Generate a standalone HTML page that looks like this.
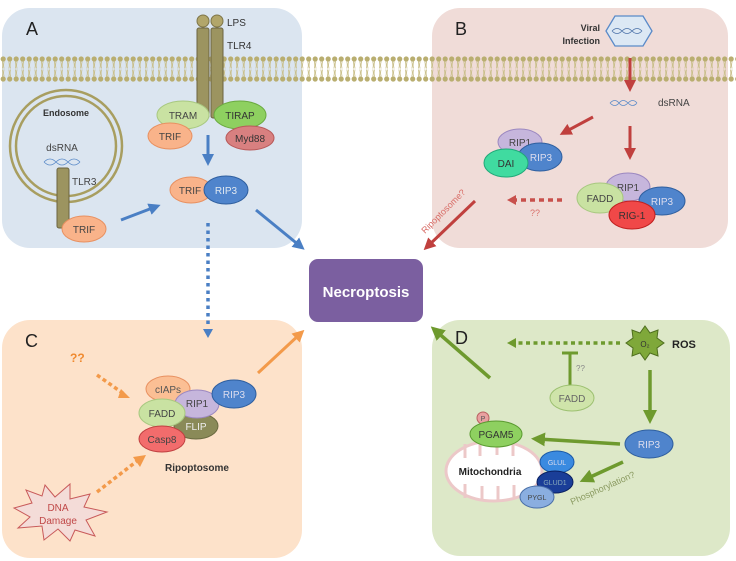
<!DOCTYPE html>
<html><head><meta charset="utf-8"><style>
html,body{margin:0;padding:0;background:#fff;}
svg{display:block;font-family:"Liberation Sans",sans-serif;}
</style></head><body>
<svg width="736" height="561" viewBox="0 0 736 561" xmlns="http://www.w3.org/2000/svg">
<defs>
<pattern id="mem" x="0" y="55" width="6.5" height="28" patternUnits="userSpaceOnUse">
<circle cx="3.2" cy="4" r="2.6" fill="#b9ae70"/>
<circle cx="3.2" cy="24" r="2.6" fill="#b9ae70"/>
<path d="M2.3 6.5 q1 4 0 7 M4.1 6.5 q-1 4 0 7 M2.3 21.5 q1 -4 0 -7 M4.1 21.5 q-1 -4 0 -7" stroke="#c7bd85" stroke-width="0.8" fill="none"/>
</pattern>
<marker id="ab" markerWidth="4" markerHeight="4" refX="2" refY="2" orient="auto"><path d="M0 0L4 2L0 4z" fill="#4a7fc4"/></marker>
<marker id="ar" markerWidth="4" markerHeight="4" refX="2" refY="2" orient="auto"><path d="M0 0L4 2L0 4z" fill="#c0403e"/></marker>
<marker id="ao" markerWidth="4" markerHeight="4" refX="2" refY="2" orient="auto"><path d="M0 0L4 2L0 4z" fill="#f39a4a"/></marker>
<marker id="ag" markerWidth="4" markerHeight="4" refX="2" refY="2" orient="auto"><path d="M0 0L4 2L0 4z" fill="#6e9a2e"/></marker>
<marker id="arp" markerWidth="4" markerHeight="4" refX="2" refY="2" orient="auto"><path d="M0 0L4 2L0 4z" fill="#d8706a"/></marker>
</defs>
<!-- panels -->
<rect x="2" y="8" width="300" height="240" rx="28" fill="#dbe5f0"/>
<rect x="432" y="8" width="296" height="240" rx="28" fill="#f0dcd8"/>
<rect x="2" y="320" width="300" height="238" rx="28" fill="#fde2ca"/>
<rect x="432" y="320" width="298" height="236" rx="28" fill="#dde8c8"/>
<!-- membrane -->
<rect x="0" y="55" width="736" height="28" fill="url(#mem)"/>
<!-- necroptosis -->
<rect x="309" y="259" width="114" height="63" rx="9" fill="#7b5fa0"/>
<text x="366" y="297" text-anchor="middle" font-size="15" font-weight="bold" fill="#fff">Necroptosis</text>

<!-- Panel A -->
<text x="26" y="35" font-size="18" fill="#222">A</text>
<circle cx="203" cy="21" r="6" fill="#b2a66a" stroke="#7e7548"/>
<circle cx="217" cy="21" r="6" fill="#b2a66a" stroke="#7e7548"/>
<rect x="197" y="28" width="12" height="90" rx="2" fill="#9c9460" stroke="#6b6440"/>
<rect x="211" y="28" width="12" height="90" rx="2" fill="#9c9460" stroke="#6b6440"/>
<text x="227" y="26" font-size="10" fill="#333">LPS</text>
<text x="227" y="49" font-size="10" fill="#333">TLR4</text>
<ellipse cx="183" cy="115" rx="26" ry="14" fill="#c9e2a2" stroke="#a8c880"/>
<text x="183" y="119" text-anchor="middle" font-size="10" fill="#444">TRAM</text>
<ellipse cx="240" cy="115" rx="26" ry="14" fill="#8ed060" stroke="#6aaa40"/>
<text x="240" y="119" text-anchor="middle" font-size="10" fill="#333">TIRAP</text>
<ellipse cx="170" cy="136" rx="22" ry="13" fill="#f9b38a" stroke="#e89060"/>
<text x="170" y="140" text-anchor="middle" font-size="10" fill="#444">TRIF</text>
<ellipse cx="250" cy="138" rx="24" ry="12" fill="#d88080" stroke="#b85a5a"/>
<text x="250" y="142" text-anchor="middle" font-size="10" fill="#333">Myd88</text>
<line x1="208" y1="135" x2="208" y2="160" stroke="#4a7fc4" stroke-width="3" marker-end="url(#ab)"/>
<ellipse cx="191" cy="190" rx="21" ry="13" fill="#f9b38a" stroke="#e89060"/>
<text x="190" y="194" text-anchor="middle" font-size="10" fill="#444">TRIF</text>
<ellipse cx="226" cy="190" rx="22" ry="14" fill="#4f84cc" stroke="#2f5f9f"/>
<text x="226" y="194" text-anchor="middle" font-size="10" fill="#e0e8f0">RIP3</text>
<circle cx="66" cy="146" r="56" fill="none" stroke="#a89e60" stroke-width="2.5"/>
<circle cx="66" cy="146" r="50" fill="none" stroke="#a89e60" stroke-width="2.5"/>
<text x="66" y="116" text-anchor="middle" font-size="9" font-weight="bold" fill="#333">Endosome</text>
<text x="62" y="151" text-anchor="middle" font-size="10" fill="#444">dsRNA</text>
<path d="M44 162 q6 -6 12 0 t12 0 t12 0 M44 162 q6 6 12 0 t12 0 t12 0" stroke="#5a8ac8" fill="none" stroke-width="0.8"/>
<rect x="57" y="168" width="12" height="60" rx="2" fill="#9c9460" stroke="#6b6440"/>
<text x="72" y="185" font-size="10" fill="#444">TLR3</text>
<ellipse cx="84" cy="229" rx="22" ry="13" fill="#f9b38a" stroke="#e89060"/>
<text x="84" y="233" text-anchor="middle" font-size="10" fill="#444">TRIF</text>
<line x1="121" y1="220" x2="155" y2="207" stroke="#4a7fc4" stroke-width="3" marker-end="url(#ab)"/>
<line x1="256" y1="210" x2="300" y2="246" stroke="#4a7fc4" stroke-width="3" marker-end="url(#ab)"/>
<line x1="208" y1="223" x2="208" y2="328" stroke="#4a7fc4" stroke-width="3.5" stroke-dasharray="3.5 4"/>
<path d="M203 329 L213 329 L208 338z" fill="#4a7fc4"/>

<!-- Panel B -->
<text x="455" y="35" font-size="18" fill="#222">B</text>
<text x="600" y="31" text-anchor="end" font-size="9" font-weight="bold" fill="#333">Viral</text>
<text x="600" y="44" text-anchor="end" font-size="9" font-weight="bold" fill="#333">Infection</text>
<path d="M606 31 L615 16 L643 16 L652 31 L643 46 L615 46z" fill="#dce8f4" stroke="#5a8ac8" stroke-width="1.3"/>
<path d="M612 31 q5 -5 10 0 t10 0 t10 0 M612 31 q5 5 10 0 t10 0 t10 0" stroke="#4a70a8" fill="none" stroke-width="0.8"/>
<line x1="630" y1="58" x2="630" y2="86" stroke="#c0403e" stroke-width="3" marker-end="url(#ar)"/>
<path d="M610 103 q5 -5 9 0 t9 0 t9 0 M610 103 q5 5 9 0 t9 0 t9 0" stroke="#5a8ac8" fill="none" stroke-width="0.8"/>
<text x="658" y="106" font-size="10" fill="#444">dsRNA</text>
<line x1="593" y1="117" x2="565" y2="132" stroke="#c0403e" stroke-width="3" marker-end="url(#ar)"/>
<line x1="630" y1="126" x2="630" y2="154" stroke="#c0403e" stroke-width="3" marker-end="url(#ar)"/>
<ellipse cx="520" cy="142" rx="22" ry="13" fill="#c6b6dc" stroke="#9c88c0"/>
<text x="520" y="146" text-anchor="middle" font-size="10" fill="#444">RIP1</text>
<ellipse cx="540" cy="157" rx="22" ry="14" fill="#4f84cc" stroke="#2f5f9f"/>
<text x="541" y="161" text-anchor="middle" font-size="10" fill="#dde">RIP3</text>
<ellipse cx="506" cy="163" rx="22" ry="14" fill="#40dba0" stroke="#20a878"/>
<text x="506" y="167" text-anchor="middle" font-size="10" fill="#333">DAI</text>
<ellipse cx="628" cy="187" rx="22" ry="14" fill="#c6b6dc" stroke="#9c88c0"/>
<text x="628" y="191" text-anchor="middle" font-size="10" fill="#444">RIP1</text>
<ellipse cx="662" cy="201" rx="23" ry="14" fill="#4f84cc" stroke="#2f5f9f"/>
<text x="662" y="205" text-anchor="middle" font-size="10" fill="#dde">RIP3</text>
<ellipse cx="600" cy="198" rx="23" ry="15" fill="#c9e2a2" stroke="#a8c880"/>
<text x="600" y="202" text-anchor="middle" font-size="10" fill="#444">FADD</text>
<ellipse cx="632" cy="215" rx="23" ry="14" fill="#f04848" stroke="#c02020"/>
<text x="632" y="219" text-anchor="middle" font-size="10" fill="#333">RIG-1</text>
<line x1="562" y1="200" x2="514" y2="200" stroke="#c8504c" stroke-width="3.5" stroke-dasharray="5 4"/>
<path d="M516 195 L516 205 L507 200z" fill="#c8504c"/>
<text x="530" y="216" font-size="9" fill="#d8706a">??</text>
<line x1="475" y1="201" x2="428" y2="246" stroke="#c0403e" stroke-width="3" marker-end="url(#ar)"/>
<text transform="translate(425,234) rotate(-45)" font-size="9" fill="#d86c66">Ripoptosome?</text>

<!-- Panel C -->
<text x="25" y="347" font-size="18" fill="#222">C</text>
<text x="70" y="362" font-size="12" font-weight="bold" fill="#f08a30">??</text>
<line x1="97" y1="375" x2="124" y2="394" stroke="#f39a4a" stroke-width="3.5" stroke-dasharray="4 3"/>
<path d="M121 389 L130 398 L118 398z" fill="#f39a4a"/>
<ellipse cx="168" cy="389" rx="22" ry="13" fill="#fbbf94" stroke="#e89060"/>
<text x="168" y="393" text-anchor="middle" font-size="10" fill="#555">cIAPs</text>
<ellipse cx="196" cy="426" rx="22" ry="13" fill="#8a8a58" stroke="#6a6a40"/>
<text x="196" y="430" text-anchor="middle" font-size="10" fill="#eee">FLIP</text>
<ellipse cx="197" cy="404" rx="22" ry="14" fill="#c6b6dc" stroke="#9c88c0"/>
<text x="197" y="407" text-anchor="middle" font-size="10" fill="#444">RIP1</text>
<ellipse cx="234" cy="394" rx="22" ry="14" fill="#4f84cc" stroke="#2f5f9f"/>
<text x="234" y="398" text-anchor="middle" font-size="10" fill="#dde">RIP3</text>
<ellipse cx="162" cy="413" rx="23" ry="14" fill="#c9e2a2" stroke="#a8c880"/>
<text x="162" y="417" text-anchor="middle" font-size="10" fill="#444">FADD</text>
<ellipse cx="162" cy="439" rx="23" ry="13" fill="#f26c6c" stroke="#c04040"/>
<text x="162" y="443" text-anchor="middle" font-size="10" fill="#444">Casp8</text>
<text x="197" y="471" text-anchor="middle" font-size="10" font-weight="bold" fill="#333">Ripoptosome</text>
<line x1="97" y1="492" x2="137" y2="461" stroke="#f39a4a" stroke-width="3.5" stroke-dasharray="4 3"/>
<path d="M133 457 L146 455 L140 467z" fill="#f39a4a"/>
<line x1="258" y1="373" x2="300" y2="334" stroke="#f39a4a" stroke-width="3" marker-end="url(#ao)"/>
<path d="M45 485 L55 497 L70 484 L70 499 L90 494 L84 507 L107 512 L86 520 L95 536 L75 530 L70 541 L58 529 L44 540 L42 526 L18 528 L30 517 L14 508 L32 503 L26 490 L42 496z" fill="#f4dcd8" stroke="#c85a5a" stroke-width="1"/>
<text x="58" y="511" text-anchor="middle" font-size="10" fill="#c04848">DNA</text>
<text x="58" y="524" text-anchor="middle" font-size="10" fill="#c04848">Damage</text>

<!-- Panel D -->
<text x="455" y="344" font-size="18" fill="#222">D</text>
<line x1="490" y1="378" x2="436" y2="331" stroke="#6e9a2e" stroke-width="3.5" marker-end="url(#ag)"/>
<path d="M645 326 L650 333 L658 330 L657 338 L664 343 L657 348 L658 356 L650 353 L645 360 L640 353 L632 356 L633 348 L626 343 L633 338 L632 330 L640 333z" fill="#7fa83a" stroke="#4e6e1e"/>
<text x="645" y="347" text-anchor="middle" font-size="8" fill="#333">O₂</text>
<text x="672" y="348" font-size="11" font-weight="bold" fill="#222">ROS</text>
<line x1="620" y1="343" x2="516" y2="343" stroke="#6e9a2e" stroke-width="3.5" stroke-dasharray="4 3.5"/>
<path d="M516 338 L516 348 L507 343z" fill="#6e9a2e"/>
<line x1="570" y1="386" x2="570" y2="353" stroke="#6e9a2e" stroke-width="3"/>
<line x1="562" y1="353" x2="578" y2="353" stroke="#6e9a2e" stroke-width="3"/>
<text x="576" y="371" font-size="8" fill="#888">??</text>
<ellipse cx="572" cy="398" rx="22" ry="13" fill="#cfe4aa" stroke="#9cc070"/>
<text x="572" y="402" text-anchor="middle" font-size="10" fill="#666">FADD</text>
<line x1="650" y1="370" x2="650" y2="417" stroke="#6e9a2e" stroke-width="3.5" marker-end="url(#ag)"/>
<ellipse cx="649" cy="444" rx="24" ry="14" fill="#4f84cc" stroke="#2f5f9f"/>
<text x="649" y="448" text-anchor="middle" font-size="10" fill="#dde">RIP3</text>
<line x1="620" y1="444" x2="538" y2="439" stroke="#6e9a2e" stroke-width="3.5" marker-end="url(#ag)"/>
<ellipse cx="494" cy="471" rx="48" ry="30" fill="#fff" stroke="#ecc8c8" stroke-width="3"/>
<g stroke="#ecc8c8" stroke-width="3">
<line x1="465" y1="444" x2="465" y2="458"/><line x1="480" y1="442" x2="480" y2="456"/><line x1="497" y1="441" x2="497" y2="455"/><line x1="513" y1="442" x2="513" y2="456"/>
<line x1="465" y1="498" x2="465" y2="484"/><line x1="482" y1="500" x2="482" y2="486"/><line x1="498" y1="500" x2="498" y2="486"/><line x1="514" y1="499" x2="514" y2="485"/>
</g>
<text x="490" y="475" text-anchor="middle" font-size="10" font-weight="bold" fill="#222">Mitochondria</text>
<circle cx="483" cy="418" r="6" fill="#e8a0a0" stroke="#b86060"/>
<text x="483" y="421" text-anchor="middle" font-size="7" fill="#555">P</text>
<ellipse cx="496" cy="434" rx="26" ry="13" fill="#8ed060" stroke="#5a9a30"/>
<text x="496" y="438" text-anchor="middle" font-size="10" fill="#333">PGAM5</text>
<ellipse cx="557" cy="462" rx="17" ry="11" fill="#3a8ae0" stroke="#1a5aa8"/>
<text x="557" y="465" text-anchor="middle" font-size="7" fill="#dde">GLUL</text>
<ellipse cx="555" cy="482" rx="18" ry="11" fill="#1a3e98" stroke="#0a2060"/>
<text x="555" y="485" text-anchor="middle" font-size="7" fill="#8ab">GLUD1</text>
<ellipse cx="537" cy="497" rx="17" ry="11" fill="#8aaee0" stroke="#4a70a8"/>
<text x="537" y="500" text-anchor="middle" font-size="7" fill="#444">PYGL</text>
<line x1="623" y1="462" x2="586" y2="479" stroke="#6e9a2e" stroke-width="3.5" marker-end="url(#ag)"/>
<text transform="translate(572,505) rotate(-24)" font-size="9" fill="#8a9a60">Phosphorylation?</text>
</svg>
</body></html>
